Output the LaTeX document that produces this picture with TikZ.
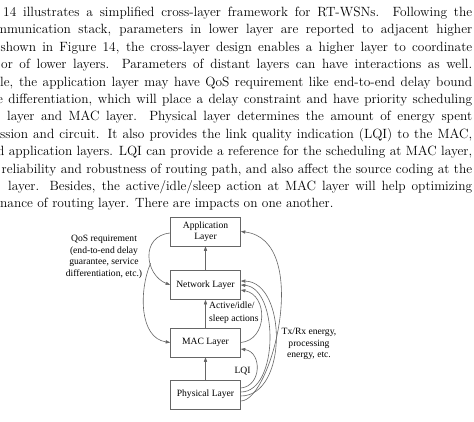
\documentclass[tikz,border=0pt]{standalone}
\usepackage{fontspec}
\newfontfamily\dfont{Liberation Serif}
\usetikzlibrary{arrows.meta}
\tikzset{
  layer/.style={draw=black!60, fill=white, minimum width=70pt, minimum height=29pt,
    inner sep=1pt, font=\dfont\fontsize{9.6}{11.5}\selectfont, align=center, line width=0.6pt},
  conn/.style={draw=black!60, line width=0.6pt, -{Triangle[length=4.5pt,width=3.2pt]}},
  lbl/.style={font=\dfont\fontsize{9.6}{11.5}\selectfont, align=center, inner sep=0pt},
  para/.style={anchor=base west, inner sep=0pt, font=\fontsize{13.4}{16}\selectfont},
}
\begin{document}
\begin{tikzpicture}[x=1pt,y=-1pt]
\useasboundingbox (0,0) rectangle (474,422);
\fill[white] (0,0) rectangle (474,422);
\clip (0,0) rectangle (474,422);

% paragraph
\node[para] (p1) at (3,16.6) {\makebox[469pt][s]{14 illustrates a simplified cross-layer framework for RT-WSNs.  Following the}};
\node[para] (p2) at (-4,34) {\makebox[476pt][s]{mmunication stack, parameters in lower layer are reported to adjacent higher}};
\node[para] (p3) at (0.5,51.4) {\makebox[471.5pt][s]{shown in Figure 14, the cross-layer design enables a higher layer to coordinate}};
\node[para] (p4) at (1,68.8) {\makebox[471pt][s]{or of lower layers.  Parameters of distant layers can have interactions as well.}};
\node[para] (p5) at (0,86.2) {\makebox[472pt][s]{le, the application layer may have QoS requirement like end-to-end delay bound}};
\node[para] (p6) at (-3,103.6) {\makebox[475pt][s]{e differentiation, which will place a delay constraint and have priority scheduling}};
\node[para] (p7) at (7,121) {\makebox[465pt][s]{layer and MAC layer.  Physical layer determines the amount of energy spent}};
\node[para] (p8) at (0,138.4) {\makebox[472pt][s]{ssion and circuit. It also provides the link quality indication (LQI) to the MAC,}};
\node[para] (p9) at (-3,155.8) {\makebox[475pt][s]{d application layers. LQI can provide a reference for the scheduling at MAC layer,}};
\node[para] (p10) at (1.5,173.2) {\makebox[470.5pt][s]{reliability and robustness of routing path, and also affect the source coding at the}};
\node[para] (p11) at (8,190.6) {\makebox[464pt][s]{layer.  Besides, the active/idle/sleep action at MAC layer will help optimizing}};
\node[para] (p12) at (0,208) {nance of routing layer.  There are impacts on one another.};

% layers
\node[layer] (app) at (205.5,231.5) {Application\\Layer};
\node[layer] (net) at (205.5,285) {Network Layer};
\node[layer] (mac) at (205.5,342.5) {MAC Layer};
\node[layer] (phy) at (205.5,394.5) {Physical Layer};

% vertical arrows
\draw[conn] (net.north) -- (app.south);
\draw[conn] (mac.north) -- (net.south);
\draw[conn] (phy.north) -- (mac.south);

% left curves
\draw[conn] ([yshift=-1.5pt]app.west) .. controls (140,236) and (145,275) .. (net.west) coordinate[pos=0.6] (br);
\draw[conn] (br) .. controls (139,290) and (139,338) .. (mac.west);

% right curves
\draw[conn] ([yshift=6.5pt]phy.east) .. controls (262,386) and (262,352) .. ([yshift=-6.5pt]mac.east);
\draw[conn] (mac.east) .. controls (268,340) and (268,295) .. ([yshift=-5pt]net.east);
\draw[conn] ([yshift=2.5pt]phy.east) .. controls (279,392) and (279,288) .. (net.east);
\draw[conn] ([yshift=-1.5pt]phy.east) .. controls (288,396) and (287,282) .. ([yshift=4pt]net.east);
\draw[conn] ([yshift=-6.5pt]phy.east) .. controls (272,401) and (312,240) .. (app.east);

% labels
\node[lbl] (qos) at (104,257) {QoS requirement\\(end-to-end delay\\guarantee, service\\differentiation, etc.)};
\node[lbl, align=left, anchor=west] (act) at (209,312.5) {Active/idle/\\[1pt]sleep actions};
\node[lbl] (lqi) at (242.5,371) {LQI};
\node[lbl] (txrx) at (309,344) {Tx/Rx energy,\\processing\\energy, etc.};
\end{tikzpicture}
\end{document}
